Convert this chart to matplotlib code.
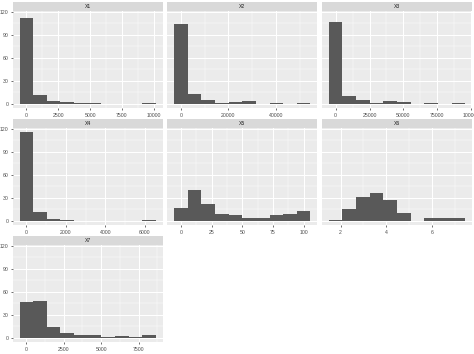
import matplotlib
matplotlib.use("Agg")
import matplotlib.pyplot as plt
from matplotlib.ticker import FixedLocator
import numpy as np

plt.rcParams["font.family"] = ["Liberation Sans", "DejaVu Sans"]

# ---- data ----
variables = ["X1", "X2", "X3", "X4", "X5", "X6", "X7"]
# center of the first histogram bin and bin width for each variable
bin_first_center = [0, 0, 0, 0, 0, 1.787, 0]
bin_width = [1070, 5750, 10060, 690, 11.1, 0.5955, 911]

counts_X1 = [111, 11, 3, 2, 1, 1, 0, 0, 0, 1]
counts_X2 = [104, 13, 5, 1, 2, 3, 0, 1, 0, 1]
counts_X3 = [107, 10, 5, 1, 3, 2, 0, 1, 0, 1]
counts_X4 = [115, 11, 2, 1, 0, 0, 0, 0, 0, 1]
counts_X5 = [17, 40, 22, 9, 7, 4, 3, 7, 8, 13]
counts_X6 = [1, 15, 31, 36, 27, 10, 0, 3, 3, 4]
counts_X7 = [47, 48, 14, 6, 3, 4, 1, 2, 1, 4]
all_counts = [counts_X1, counts_X2, counts_X3, counts_X4,
              counts_X5, counts_X6, counts_X7]

xticks_X1 = [0, 2500, 5000, 7500, 10000]
xticks_X2 = [0, 20000, 40000]
xticks_X3 = [0, 25000, 50000, 75000, 100000]
xticks_X4 = [0, 2000, 4000, 6000]
xticks_X5 = [0, 25, 50, 75, 100]
xticks_X6 = [2, 4, 6]
xticks_X7 = [0, 2500, 5000, 7500]
all_xticks = [xticks_X1, xticks_X2, xticks_X3, xticks_X4,
              xticks_X5, xticks_X6, xticks_X7]

y_ticks = [0, 30, 60, 90, 120]
y_max_count = 115

# ---- styling / layout ----
W, H = 474, 354
fig = plt.figure(figsize=(W / 100, H / 100), dpi=100)
fig.patch.set_facecolor("white")

col_left = [12.7, 167.3, 322.0]
panel_w = 150.0
row_top = [2.0, 119.0, 236.0]
strip_h = 9.0
panel_h = 97.0

BAR = "#595959"
PANEL_BG = "#EBEBEB"
STRIP_BG = "#D9D9D9"
FS = 3.7

for i, name in enumerate(variables):
    r, c = divmod(i, 3)
    left = col_left[c]
    top = row_top[r]
    ax = fig.add_axes([left / W, 1 - (top + strip_h + panel_h) / H,
                       panel_w / W, panel_h / H])
    sax = fig.add_axes([left / W, 1 - (top + strip_h) / H,
                        panel_w / W, strip_h / H])

    # strip
    sax.set_facecolor(STRIP_BG)
    sax.set_xticks([])
    sax.set_yticks([])
    for s in sax.spines.values():
        s.set_visible(False)
    sax.text(0.5, 0.5, name, ha="center", va="center", fontsize=FS,
             color="#1A1A1A", transform=sax.transAxes)

    # histogram bars
    w = bin_width[i]
    c0 = bin_first_center[i]
    counts = np.array(all_counts[i])
    centers = c0 + w * np.arange(len(counts))
    ax.bar(centers, counts, width=w, color=BAR, linewidth=0, zorder=2)

    ax.set_facecolor(PANEL_BG)
    for s in ax.spines.values():
        s.set_visible(False)
    xlo = c0 - w
    xhi = c0 + len(counts) * w
    ax.set_xlim(xlo, xhi)
    pad = 0.05 * y_max_count
    ax.set_ylim(-pad, y_max_count + pad)

    xt = all_xticks[i]
    step = xt[1] - xt[0]
    minor_x = [t for t in np.arange(xt[0] - step / 2, xhi + step, step)
               if xlo < t < xhi]
    ax.set_xticks(xt)
    ax.set_xticklabels([f"{t:g}" if t < 1e5 else str(int(t)) for t in xt])
    ax.xaxis.set_minor_locator(FixedLocator(minor_x))
    ax.set_yticks(y_ticks)
    ax.yaxis.set_minor_locator(FixedLocator([15, 45, 75, 105]))

    ax.set_axisbelow(True)
    ax.grid(which="major", color="white", linewidth=0.75)
    ax.grid(which="minor", color="white", linewidth=0.35)

    ax.tick_params(which="major", direction="out", length=1.5, width=0.5,
                   color="#333333", labelsize=FS, labelcolor="#4D4D4D", pad=1.5)
    ax.tick_params(axis="x", which="major", pad=2)
    ax.tick_params(which="minor", length=0)
    if c != 0:
        ax.tick_params(axis="y", left=False, labelleft=False)

fig.savefig("out.png", dpi=100, facecolor="white")
